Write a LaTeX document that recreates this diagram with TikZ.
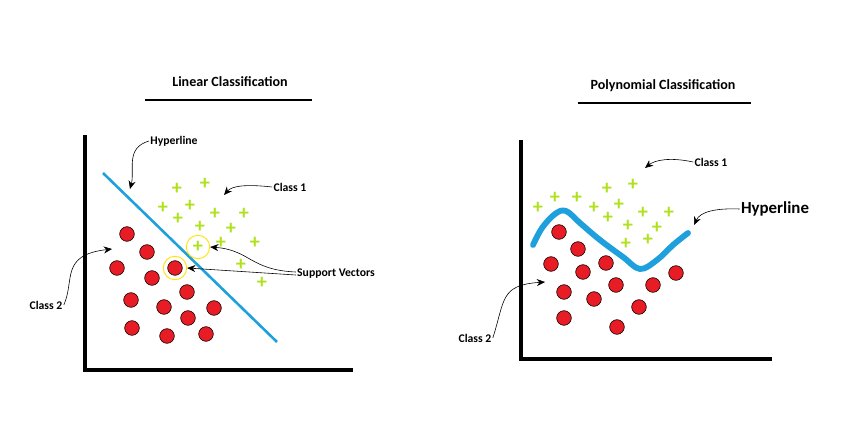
\documentclass[tikz,border=0pt]{standalone}
\usepackage{fontspec}
\setmainfont{Carlito}
\usetikzlibrary{arrows.meta}
\definecolor{pcol}{RGB}{175,225,30}
\definecolor{rcol}{RGB}{232,28,36}
\definecolor{bcol}{RGB}{30,160,220}
\begin{document}
\begin{tikzpicture}[x=0.03cm,y=-0.03cm,
  ax/.style={line width=3pt},
  dot/.style={circle,fill=rcol,draw=black,line width=0.5pt,minimum size=12.5pt,inner sep=0pt},
  pl/.style={text=pcol,font=\bfseries\LARGE,inner sep=0pt},
  lbl/.style={font=\bfseries\normalsize,inner sep=1pt},
  ttl/.style={font=\bfseries\large,inner sep=1pt},
  arr/.style={-{Stealth[length=7pt,width=6pt]},line width=0.5pt},
  sv/.style={circle,draw=yellow!85!orange,line width=0.8pt,minimum size=20pt,inner sep=0pt}]
\useasboundingbox (0,0) rectangle (863,422);
% ---- left
\node[ttl] (t1) at (230,82) {Linear Classification};
\draw[line width=2.5pt] (145,100) -- (312,100);
\draw[ax] (85,135) -- (85,370) -- (353,370);
\draw[line width=2.2pt,bcol] (103,173) -- (277,342);
\foreach \p [count=\i] in {(127,234),(147,252),(117,268),(152,278),(175,268),(187,292),(131,300),(164,307),(214,308),(188,318),(132,328),(167,336),(206,334)}
  \node[dot] (r\i) at \p {};
\foreach \p [count=\i] in {(177,189),(205,184),(163,208),(190,206),(178,219),(215,214),(244,214),(200,227),(231,229),(221,243),(255,243),(198,247),(241,265),(262,283)}
  \node[pl] (p\i) at \p {+};
\node[sv] (s1) at (198,247) {};
\node[sv] (s2) at (175,268) {};
\node[lbl] (sv) at (336,274) {Support Vectors};
\draw[arr] (sv.west) ++(0,-2) .. controls (250,270) and (250,250) .. (s1.east);
\draw[arr] (sv.west) ++(0,1) -- (s2.east);
\node[lbl] (hl) at (174,141) {Hyperline};
\draw[arr] (hl.west) .. controls (125,148) and (135,170) .. (130,189);
\node[lbl] (c1) at (290,187) {Class 1};
\draw[arr] (c1.west) .. controls (245,184) and (232,186) .. (224,195);
\node[lbl] (c2) at (46,305) {Class 2};
\draw[arr] (c2.east) .. controls (75,280) and (60,255) .. (112,249);
% ---- right
\node[ttl] (t2) at (663,86) {Polynomial Classification};
\draw[line width=2.5pt] (578,103) -- (751,103);
\draw[ax] (521,140) -- (521,359) -- (772,359);
\draw[line width=5pt,bcol,line cap=round,line join=round] plot[smooth,tension=0.6] coordinates {(533,245) (542,228) (555,214) (566,211) (580,223) (600,240) (623,257) (640,269) (657,260) (673,245) (688,233)};
\foreach \p [count=\i] in {(559,232),(578,249),(551,264),(583,272),(606,263),(616,285),(564,292),(594,299),(653,285),(676,273),(639,307),(564,318),(617,327)}
  \node[dot] (q\i) at \p {};
\foreach \p [count=\i] in {(538,208),(555,198),(577,198),(607,189),(633,185),(594,208),(619,205),(608,218),(643,213),(669,213),(628,226),(657,228),(626,244),(648,240)}
  \node[pl] (u\i) at \p {+};
\node[lbl] (d1) at (711,162) {Class 1};
\draw[arr] (d1.west) .. controls (670,157) and (655,160) .. (645,168);
\node[ttl,font=\bfseries\Large] (h2) at (775,209) {Hyperline};
\draw[arr] (h2.west) .. controls (715,208) and (700,212) .. (694,225);
\node[lbl] (d2) at (475,338) {Class 2};
\draw[arr] (d2.east) .. controls (505,300) and (500,285) .. (545,282);
\end{tikzpicture}
\end{document}
